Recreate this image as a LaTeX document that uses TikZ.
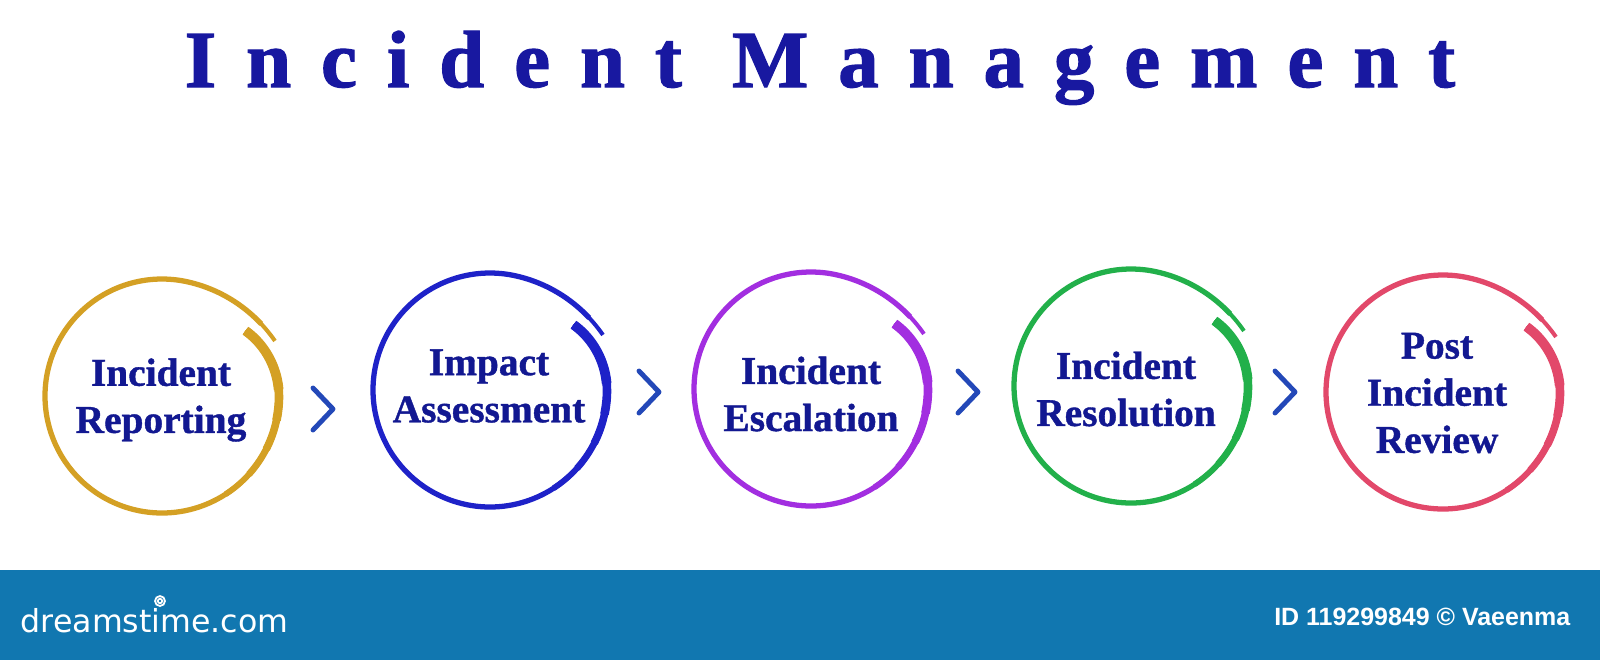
\documentclass[tikz,border=0pt]{standalone}
\usepackage{fontspec}
\setmainfont{Liberation Serif}
\newfontfamily\titlefont[LetterSpace=37, FakeBold=1.5]{Liberation Serif}
\newfontfamily\stepfont[FakeBold=1]{Liberation Serif}
\newfontfamily\barfont{DejaVu Sans}
\newfontfamily\idfont{Liberation Sans}
\definecolor{titleblue}{RGB}{24,24,160}
\definecolor{textblue}{RGB}{18,24,145}
\definecolor{chevblue}{RGB}{35,72,184}
\definecolor{ringgold}{RGB}{212,160,36}
\definecolor{ringblue}{RGB}{30,34,200}
\definecolor{ringpurple}{RGB}{162,46,224}
\definecolor{ringgreen}{RGB}{34,176,74}
\definecolor{ringred}{RGB}{226,72,106}
\definecolor{barblue}{RGB}{17,119,176}
\tikzset{
  steptext/.style={text=textblue, inner sep=0pt, align=center,
    font=\stepfont\fontsize{11.2}{13.4}\selectfont\bfseries},
  chevron/.style={draw=chevblue, line width=1.4pt, line cap=round, line join=round},
}
% hand drawn ring: #1 centre, #2 colour
\newcommand{\sketchring}[2]{
  \draw[#2, line width=1.5pt, shift={(#1)}] plot[domain=0:362, samples=130, smooth]
    ({\x-38}:{117-11*(max(0,1-\x/40))^2+8*(max(0,(\x-320)/50))^2});
  \draw[#2, line width=1.15pt, shift={(#1)}] plot[domain=355:372, samples=10, smooth]
    ({\x-38}:{117+8*(max(0,(\x-320)/50))^2});
  \foreach \e/\w in {95/1.65pt, 80/1.9pt, 65/2.15pt, 50/2.45pt, 35/2.75pt}
    \draw[#2, line width=\w, shift={(#1)}] plot[domain=0:\e, samples=30, smooth]
      ({\x-38}:{117-11*(max(0,1-\x/40))^2});
}
\begin{document}
\begin{tikzpicture}[x=0.01cm, y=-0.01cm]
  \fill[white] (0,0) rectangle (1600,660);
  \useasboundingbox (0,0) rectangle (1600,660);

  \node[anchor=base, text=titleblue, font=\titlefont\fontsize{23}{23}\selectfont\bfseries]
    (title) at (820,87) {Incident Management};

  \coordinate (c1) at (162,396);
  \coordinate (c2) at (490,390);
  \coordinate (c3) at (811,389);
  \coordinate (c4) at (1131,386);
  \coordinate (c5) at (1443,392);

  \sketchring{c1}{ringgold}
  \sketchring{c2}{ringblue}
  \sketchring{c3}{ringpurple}
  \sketchring{c4}{ringgreen}
  \sketchring{c5}{ringred}

  \node[steptext] (t1) at (161,400) {Incident\\Reporting};
  \node[steptext] (t2) at (489,386) {Impact\\Assessment};
  \node[steptext] (t3) at (811,394) {Incident\\Escalation};
  \node[steptext] (t4) at (1126,389) {Incident\\Resolution};
  \node[steptext] (t5) at (1437,393) {Post\\Incident\\Review};

  \coordinate (m1) at (323,409);
  \coordinate (m2) at (649,392);
  \coordinate (m3) at (968,392);
  \coordinate (m4) at (1285,392);
  \foreach \m in {m1,m2,m3,m4}
    \draw[chevron] ([shift={(-10,-21)}]\m) -- ([shift={(10,0)}]\m) -- ([shift={(-10,21)}]\m);

  \fill[barblue] (0,570) rectangle (1600,660);
  \node[anchor=base west, inner sep=0pt, text=white, font=\barfont\fontsize{9}{9}\selectfont]
    (site) at (20,632) {dreamstime.com};
  \draw[white, line width=0.5pt] (160,601) circle[radius=0.05cm] (160,601) circle[radius=0.022cm];
  \node[anchor=base east, inner sep=0pt, text=white, font=\idfont\fontsize{7.1}{7.1}\selectfont\bfseries]
    (imgid) at (1571,625) {ID 119299849 © Vaeenma};
\end{tikzpicture}
\end{document}
